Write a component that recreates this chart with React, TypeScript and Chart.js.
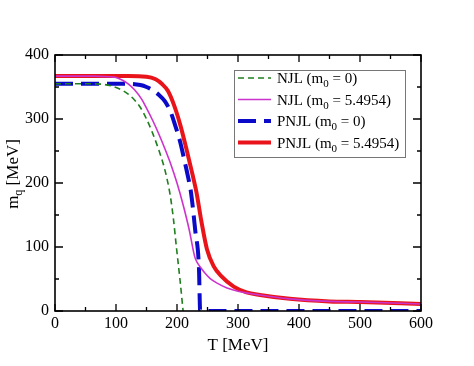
import React, { useEffect, useRef } from "react";
import { Chart, registerables } from "chart.js";

Chart.register(...registerables);

// NJL (m0 = 0)
const njl0T = [0, 60, 80, 95, 110, 120, 130, 140, 150, 160, 170, 178, 184, 189, 194, 199, 205, 210];
const njl0M = [355, 355, 354, 351, 345, 339, 330, 318, 300, 278, 252, 228, 205, 180, 145, 100, 48, 0];

// NJL (m0 = 5.4954)
const njlmT = [0, 60, 90, 100, 110, 120, 130, 142, 150, 160, 170, 180, 190, 200, 210, 220, 229, 233, 238, 245, 254, 265, 282, 300, 336, 385, 450, 500, 600];
const njlmM = [367, 367, 366, 365, 361, 355, 346, 331, 317, 298, 277, 254, 229, 200, 166, 127, 85, 76, 69, 60, 51, 44, 36, 31, 25, 19, 15, 14, 11];

// PNJL (m0 = 0)
const pnjl0T = [0, 120, 140, 150, 160, 170, 180, 190, 197, 205, 212, 218, 223, 230, 236, 238, 600];
const pnjl0M = [355, 355, 353, 350, 345, 338, 328, 310, 290, 265, 236, 210, 185, 125, 67, 0, 0];

// PNJL (m0 = 5.4954)
const pnjlmT = [0, 120, 150, 165, 175, 185, 195, 205, 215, 225, 232, 240, 249, 260, 273, 293, 314, 336, 385, 450, 500, 600];
const pnjlmM = [367, 367, 366, 362, 355, 344, 322, 292, 255, 215, 185, 140, 97, 70, 54, 38, 29, 25, 19, 15, 14, 11];

const xTicks = [0, 100, 200, 300, 400, 500, 600];
const yTicks = [0, 100, 200, 300, 400];

const legendItems = [
  { pre: "NJL (m", sub: "0", post: " = 0)", color: "#1f7f1f", width: 1.6, dash: [6, 4] },
  { pre: "NJL (m", sub: "0", post: " = 5.4954)", color: "#cc33cc", width: 1.6, dash: [] },
  { pre: "PNJL (m", sub: "0", post: " = 0)", color: "#0a0ac8", width: 4, dash: [18, 8] },
  { pre: "PNJL (m", sub: "0", post: " = 5.4954)", color: "#e8141a", width: 4, dash: [] },
];

const toPts = (t: number[], m: number[]) => t.map((x, i) => ({ x, y: m[i] }));

const SERIF = "'Liberation Serif', 'Times New Roman', serif";

const decorPlugin = {
  id: "decor",
  afterDraw(chart: any) {
    const ctx = chart.ctx;
    const a = chart.chartArea;
    const xs = chart.scales.x;
    const ys = chart.scales.y;
    ctx.save();
    ctx.strokeStyle = "#000";
    ctx.lineWidth = 1.6;
    ctx.setLineDash([]);
    ctx.strokeRect(a.left, a.top, a.right - a.left, a.bottom - a.top);
    ctx.lineWidth = 1.3;
    ctx.beginPath();
    for (let v = 0; v <= 600; v += 50) {
      const px = xs.getPixelForValue(v);
      const len = v % 100 === 0 ? 7 : 4;
      ctx.moveTo(px, a.bottom);
      ctx.lineTo(px, a.bottom - len);
      ctx.moveTo(px, a.top);
      ctx.lineTo(px, a.top + len);
    }
    for (let v = 0; v <= 400; v += 50) {
      const py = ys.getPixelForValue(v);
      const len = v % 100 === 0 ? 8 : 4;
      ctx.moveTo(a.left, py);
      ctx.lineTo(a.left + len, py);
      ctx.moveTo(a.right, py);
      ctx.lineTo(a.right - len, py);
    }
    ctx.stroke();

    ctx.fillStyle = "#000";
    ctx.font = `17px ${SERIF}`;
    ctx.textAlign = "center";
    ctx.textBaseline = "middle";
    ctx.fillText("T [MeV]", (a.left + a.right) / 2, 346);

    ctx.save();
    ctx.translate(12, 174);
    ctx.rotate(-Math.PI / 2);
    ctx.textAlign = "left";
    ctx.textBaseline = "alphabetic";
    const main = `17px ${SERIF}`;
    const sub = `12px ${SERIF}`;
    ctx.font = main;
    const wM = ctx.measureText("m").width;
    const wRest = ctx.measureText(" [MeV]").width;
    ctx.font = sub;
    const wQ = ctx.measureText("q").width;
    const total = wM + wQ + wRest;
    let x0 = -total / 2;
    const base = 6;
    ctx.font = main;
    ctx.fillText("m", x0, base);
    x0 += wM;
    ctx.font = sub;
    ctx.fillText("q", x0, base + 4);
    x0 += wQ;
    ctx.font = main;
    ctx.fillText(" [MeV]", x0, base);
    ctx.restore();

    const lx = 234, ly = 70, lw = 171, lh = 87;
    ctx.fillStyle = "#fff";
    ctx.fillRect(lx, ly, lw, lh);
    ctx.strokeStyle = "#777";
    ctx.lineWidth = 1;
    ctx.strokeRect(lx + 0.5, ly + 0.5, lw, lh);
    const rows = [78, 99.5, 121, 142.5];
    legendItems.forEach((it, i) => {
      const y = rows[i];
      ctx.strokeStyle = it.color;
      ctx.lineWidth = it.width;
      ctx.setLineDash(it.dash);
      ctx.beginPath();
      ctx.moveTo(238, y);
      ctx.lineTo(271, y);
      ctx.stroke();
      ctx.setLineDash([]);
      ctx.fillStyle = "#000";
      ctx.textAlign = "left";
      ctx.textBaseline = "alphabetic";
      let tx = 277;
      const by = y + 5;
      ctx.font = `15px ${SERIF}`;
      ctx.fillText(it.pre, tx, by);
      tx += ctx.measureText(it.pre).width;
      ctx.font = `11px ${SERIF}`;
      ctx.fillText(it.sub, tx, by + 4);
      tx += ctx.measureText(it.sub).width;
      ctx.font = `15px ${SERIF}`;
      ctx.fillText(it.post, tx, by);
    });
    ctx.restore();
  },
};

export default function App() {
  const ref = useRef<HTMLCanvasElement | null>(null);
  useEffect(() => {
    document.body.style.margin = "0";
    const canvas = ref.current!;
    const mk = (label: string, t: number[], m: number[], i: number, dash: number[]) => ({
      label,
      data: toPts(t, m),
      showLine: true,
      borderColor: legendItems[i].color,
      borderWidth: legendItems[i].width,
      borderDash: dash,
      pointRadius: 0,
      cubicInterpolationMode: "monotone",
    });
    const chart = new Chart(canvas, {
      type: "scatter",
      data: {
        datasets: [
          mk("NJL (m0 = 0)", njl0T, njl0M, 0, [6, 4]),
          mk("NJL (m0 = 5.4954)", njlmT, njlmM, 1, []),
          mk("PNJL (m0 = 0)", pnjl0T, pnjl0M, 2, [18, 8]),
          mk("PNJL (m0 = 5.4954)", pnjlmT, pnjlmM, 3, []),
        ],
      },
      options: {
        animation: false,
        responsive: false,
        devicePixelRatio: 1,
        layout: { padding: { top: 55, right: 53, left: 0, bottom: 0 } },
        plugins: { legend: { display: false }, tooltip: { enabled: false } },
        scales: {
          x: {
            type: "linear",
            min: 0,
            max: 600,
            afterBuildTicks: (s: any) => {
              s.ticks = xTicks.map((v) => ({ value: v }));
            },
            afterFit: (s: any) => {
              s.height = 55;
            },
            grid: { display: false, drawTicks: false },
            border: { display: false },
            ticks: { color: "#000", font: { family: SERIF, size: 16 }, padding: 3, maxRotation: 0 },
          },
          y: {
            type: "linear",
            min: 0,
            max: 400,
            afterBuildTicks: (s: any) => {
              s.ticks = yTicks.map((v) => ({ value: v }));
            },
            afterFit: (s: any) => {
              s.width = 55;
            },
            grid: { display: false, drawTicks: false },
            border: { display: false },
            ticks: { color: "#000", font: { family: SERIF, size: 16 }, padding: 6 },
          },
        },
      },
      plugins: [decorPlugin],
    } as any);
    return () => chart.destroy();
  }, []);
  return (
    <div style={{ position: "fixed", left: 0, top: 0, width: 474, height: 366, background: "#fff" }}>
      <canvas ref={ref} width={474} height={366} style={{ display: "block" }} />
    </div>
  );
}
